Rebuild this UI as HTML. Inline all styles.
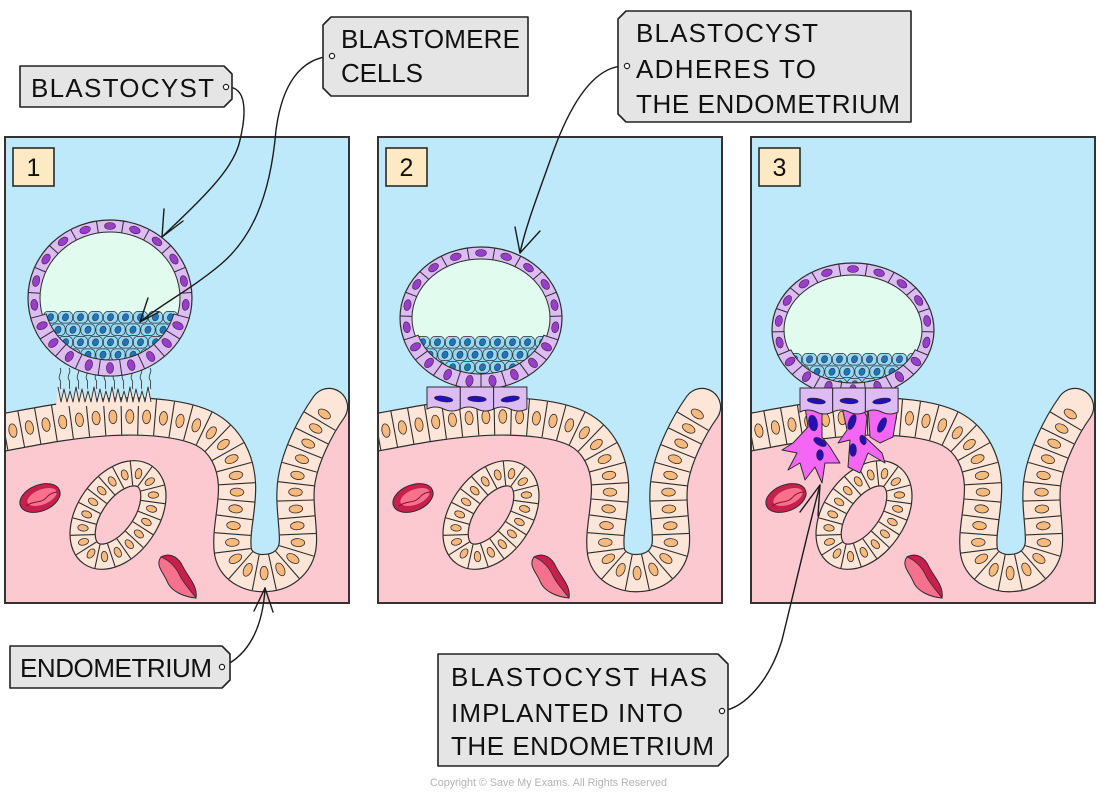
<!DOCTYPE html>
<html><head><meta charset="utf-8">
<style>
html,body{margin:0;padding:0;background:#fff;}
svg{display:block;}
text{font-family:"Liberation Sans",sans-serif;}
</style></head><body>
<svg id="s" xmlns="http://www.w3.org/2000/svg" width="1100" height="793" viewBox="0 0 1100 793">
<defs id="defs">
<clipPath id="pc"><rect x="5" y="137" width="344" height="466"/></clipPath>
</defs>
<rect x="0" y="0" width="1100" height="793" fill="#ffffff"/>
<g id="g1" clip-path="url(#pc)"></g>
<g transform="translate(373,0)"><g id="g2" clip-path="url(#pc)"></g></g>
<g transform="translate(746,0)"><g id="g3" clip-path="url(#pc)"></g></g>

<!-- panel borders -->
<rect x="5" y="137" width="344" height="466" fill="none" stroke="#333" stroke-width="2"/>
<rect x="378" y="137" width="344" height="466" fill="none" stroke="#333" stroke-width="2"/>
<rect x="751" y="137" width="344" height="466" fill="none" stroke="#333" stroke-width="2"/>

<!-- number boxes -->
<rect x="13" y="148" width="41" height="38" fill="#fde9c4" stroke="#2a2a2a" stroke-width="1.6"/>
<text x="33.5" y="176" font-size="25" text-anchor="middle" fill="#111">1</text>
<rect x="386" y="148" width="41" height="38" fill="#fde9c4" stroke="#2a2a2a" stroke-width="1.6"/>
<text x="406.5" y="176" font-size="25" text-anchor="middle" fill="#111">2</text>
<rect x="759" y="148" width="41" height="38" fill="#fde9c4" stroke="#2a2a2a" stroke-width="1.6"/>
<text x="779.5" y="176" font-size="25" text-anchor="middle" fill="#111">3</text>

<!-- connectors -->
<g fill="none" stroke="#1a1a1a" stroke-width="1.4" stroke-linecap="round">
<path d="M226,87 C248,86 246,115 240,140 C234,170 200,200 162,237"/>
<path d="M162,237 L164,209 M162,237 L183,221"/>
<path d="M332,56 C300,58 282,85 276,130 C270,200 250,240 220,265 C190,290 160,305 140,322"/>
<path d="M140,322 L148,298 M140,322 L159,312"/>
<path d="M627,66 C592,64 568,110 552,155 C538,195 526,225 520,253"/>
<path d="M520,253 L515,227 M520,253 L540,231"/>
<path d="M222,667 C250,655 263,625 265,588"/>
<path d="M265,588 L254,611 M265,588 L273,612"/>
<path d="M722,711 C745,708 770,680 782,640 C792,600 808,530 820,485"/>
<path d="M820,485 L800,512 M820,485 L818,516"/>
</g>

<!-- label boxes -->
<g fill="#e5e5e5" stroke="#222" stroke-width="1.6" stroke-linejoin="round">
<path d="M20,66 H224 L232,74 V99 L224,107 H20 Z"/>
<path d="M331,17 H528 V96 H331 L323,88 V25 Z"/>
<path d="M626,11 H911 V122 H626 L618,114 V19 Z"/>
<path d="M10,646 H222 L230,654 V680 L222,688 H10 Z"/>
<path d="M438,654 H718 L728,664 V756 L718,766 H438 Z"/>
</g>
<g fill="#fff" stroke="#222" stroke-width="1.2">
<circle cx="226" cy="87" r="2.6"/>
<circle cx="332" cy="56" r="2.6"/>
<circle cx="627" cy="66" r="2.6"/>
<circle cx="222" cy="667" r="2.6"/>
<circle cx="722" cy="711" r="2.6"/>
</g>
<g fill="#111" font-size="26">
<text x="31" y="97" textLength="183" lengthAdjust="spacing">BLASTOCYST</text>
<text x="341" y="48" textLength="179" lengthAdjust="spacing">BLASTOMERE</text>
<text x="341" y="82" textLength="82" lengthAdjust="spacing">CELLS</text>
<text x="636" y="42" textLength="182" lengthAdjust="spacing">BLASTOCYST</text>
<text x="636" y="78" textLength="180" lengthAdjust="spacing">ADHERES TO</text>
<text x="636" y="113" textLength="264" lengthAdjust="spacing">THE ENDOMETRIUM</text>
<text x="20" y="677" textLength="192" lengthAdjust="spacing">ENDOMETRIUM</text>
<text x="451" y="686" textLength="256" lengthAdjust="spacing">BLASTOCYST HAS</text>
<text x="451" y="722" textLength="232" lengthAdjust="spacing">IMPLANTED INTO</text>
<text x="451" y="755" textLength="263" lengthAdjust="spacing">THE ENDOMETRIUM</text>
</g>
<text x="430" y="786" font-size="11" fill="#b3b3b3" textLength="237" lengthAdjust="spacingAndGlyphs">Copyright © Save My Exams. All Rights Reserved</text>
</svg>
<script>
(function(){
const NS="http://www.w3.org/2000/svg";
const DK="#2d2d2d", PEACH="#fde6d8", PNUC="#f8b97c", TROPH="#dcbcf3", PNUC2="#9a3ccc",
      BLUE="#97d9f4", BNUC="#1f74bb", MINT="#e1fbee", NAVY="#2410b0", MAG="#f466f4",
      SKY="#bde9fa", PINK="#fdc9d1";
const svg=document.getElementById('s'), defs=document.getElementById('defs');
function E(t,a,p){const e=document.createElementNS(NS,t);for(const k in a)e.setAttribute(k,a[k]);(p||svg).appendChild(e);return e;}
const meas=E('g',{fill:'none',stroke:'none'},defs);

function band(g,d,half,step,nrx,nry,closed){
  E('path',{d:d,fill:'none',stroke:DK,'stroke-width':2*half+2.4,'stroke-linejoin':'round','stroke-linecap':'round'},g);
  E('path',{d:d,fill:'none',stroke:PEACH,'stroke-width':2*half,'stroke-linejoin':'round','stroke-linecap':'round'},g);
  const p=E('path',{d:d},meas);
  const L=p.getTotalLength(); const n=Math.max(1,Math.round(L/step)); const st=L/n;
  const at=function(s){s=Math.max(0,Math.min(L,s));const a=p.getPointAtLength(Math.max(0,s-0.6)),b=p.getPointAtLength(Math.min(L,s+0.6)),c=p.getPointAtLength(s);let tx=b.x-a.x,ty=b.y-a.y;const m=Math.hypot(tx,ty)||1;return {x:c.x,y:c.y,tx:tx/m,ty:ty/m};};
  let dv='';
  for(let i=(closed?0:1);i<n;i++){
    const q=at(i*st); const nx=-q.ty, ny=q.tx;
    dv+='M'+(q.x-nx*half).toFixed(1)+','+(q.y-ny*half).toFixed(1)+'L'+(q.x+nx*half).toFixed(1)+','+(q.y+ny*half).toFixed(1);
  }
  E('path',{d:dv,stroke:DK,'stroke-width':1.1,fill:'none'},g);
  for(let i=0;i<n;i++){
    const q=at((i+0.5)*st);
    const ang=Math.atan2(q.ty,q.tx)*180/Math.PI;
    E('ellipse',{cx:0,cy:0,rx:nrx,ry:nry,fill:PNUC,stroke:DK,'stroke-width':0.8,transform:'translate('+q.x.toFixed(1)+','+q.y.toFixed(1)+') rotate('+ang.toFixed(1)+')'},g);
  }
}

function blasto(g,id,cx,cy,rx,ry,icmTop,bth,t1,t2,nb,nt){
  const rt=12;
  E('ellipse',{cx:cx,cy:cy,rx:rx,ry:ry,fill:TROPH,stroke:DK,'stroke-width':1.2},g);
  const irx=rx-rt, iry=ry-rt;
  E('ellipse',{cx:cx,cy:cy,rx:irx,ry:iry,fill:MINT,stroke:DK,'stroke-width':1},g);
  const cp=E('clipPath',{id:id},defs);
  E('ellipse',{cx:cx,cy:cy,rx:irx,ry:iry},cp);
  const ig=E('g',{'clip-path':'url(#'+id+')'},g);
  E('rect',{x:cx-rx,y:icmTop+6,width:2*rx,height:2*ry,fill:BLUE},ig);
  const cw=15,ch=12.5; let r=0;
  for(let y=icmTop;y<cy+ry;y+=ch,r++){
    const off=(r%2)?cw/2:0;
    for(let x=cx-rx-off;x<cx+rx;x+=cw){
      E('rect',{x:x+0.4,y:y+0.4,width:cw-0.8,height:ch-0.8,rx:4.5,fill:BLUE,stroke:DK,'stroke-width':0.7},ig);
      const ncx=x+cw/2, ncy=y+ch/2;
      E('ellipse',{cx:ncx,cy:ncy,rx:3,ry:3.7,fill:BNUC,stroke:DK,'stroke-width':0.5,transform:'rotate(25 '+ncx+' '+ncy+')'},ig);
    }
  }
  const P=function(a,ex,ey){return [(cx+ex*Math.cos(a*Math.PI/180)).toFixed(2),(cy+ey*Math.sin(a*Math.PI/180)).toFixed(2)];};
  const tang=function(a){const ar=a*Math.PI/180;return Math.atan2(ry*Math.cos(ar),-rx*Math.sin(ar))*180/Math.PI;};
  let dv='';
  const span=(t1+360)-t2;
  for(let k=1;k<nt;k++){const a=t2+k*span/nt;const o=P(a,rx,ry),i=P(a,irx,iry);dv+='M'+o+'L'+i;}
  E('path',{d:dv,stroke:DK,'stroke-width':1,fill:'none'},g);
  for(let k=0;k<nt;k++){
    const a=t2+(k+0.5)*span/nt; const m=P(a,rx-rt/2,ry-rt/2);
    E('ellipse',{cx:0,cy:0,rx:5.5,ry:3.5,fill:PNUC2,stroke:DK,'stroke-width':0.6,transform:'translate('+m+') rotate('+tang(a)+')'},g);
  }
  const o1=P(t1,rx,ry),o2=P(t2,rx,ry),i1=P(t1,rx-bth,ry-bth),i2=P(t2,rx-bth,ry-bth);
  E('path',{d:'M'+o1+'A'+rx+','+ry+' 0 0 1 '+o2+'L'+i2+'A'+(rx-bth)+','+(ry-bth)+' 0 0 0 '+i1+'Z',fill:TROPH,stroke:DK,'stroke-width':1},g);
  dv='';
  for(let k=1;k<nb;k++){const a=t1+k*(t2-t1)/nb;const o=P(a,rx,ry),i=P(a,rx-bth,ry-bth);dv+='M'+o+'L'+i;}
  E('path',{d:dv,stroke:DK,'stroke-width':1,fill:'none'},g);
  for(let k=0;k<nb;k++){
    const a=t1+(k+0.5)*(t2-t1)/nb; const m=P(a,rx-bth/2,ry-bth/2);
    E('ellipse',{cx:0,cy:0,rx:3.6,ry:5.5,fill:PNUC2,stroke:DK,'stroke-width':0.6,transform:'translate('+m+') rotate('+tang(a)+')'},g);
  }
}

function syn(g,x0,y0,w,h,n){
  for(let i=0;i<n;i++){
    const x=x0+i*w;
    E('path',{d:'M'+x+','+y0+'h'+w+'v'+(h-4)+'q'+(-w/4)+',4 '+(-w/2)+',0 q'+(-w/4)+',-4 '+(-w/2)+',0z',fill:TROPH,stroke:DK,'stroke-width':1},g);
    const cxn=x+w/2, cyn=y0+h/2-1;
    E('ellipse',{cx:cxn,cy:cyn,rx:w*0.28,ry:2.8,fill:NAVY,stroke:DK,'stroke-width':0.5,transform:'rotate('+(i==0?8:(i==2?-8:3))+' '+cxn+' '+cyn+')'},g);
  }
}

const CL="M-12,435 C20,430 60,420 110,417 C150,415 185,419 205,429 C226,440 236,462 237,485 C238,508 230,532 233,552 C236,568 253,574 266,573 C284,572 298,560 298,540 C298,520 293,500 297,478 C301,456 314,428 329,407";

function base(g){
  E('rect',{x:0,y:130,width:360,height:480,fill:SKY},g);
  E('path',{d:CL+" L349,414 L360,414 L360,610 L-12,610 Z",fill:PINK},g);
  band(g,CL,18,17,4,6.8,false);
  const gd="M144.96,476.5 A47,28 -55 1 1 91.04,553.5 A47,28 -55 1 1 144.96,476.5 Z";
  band(g,gd,12,14,3.2,5.2,true);
  E('ellipse',{cx:40,cy:498,rx:21,ry:13,fill:"#c8204c",stroke:DK,'stroke-width':1,transform:'rotate(-22 40 498)'},g);
  E('ellipse',{cx:42,cy:497,rx:15.5,ry:7.5,fill:"#f7708e",transform:'rotate(-22 42 497)'},g);
  E('path',{d:"M26,506 C34,500 40,504 46,498 C50,493 55,492 58,492",fill:'none',stroke:"#8a1030",'stroke-width':1},g);
  E('path',{d:"M161,557 C171,552 179,558 183,567 C188,577 198,586 196,598 C185,597 171,592 167,581 C163,572 155,565 161,557 Z",fill:"#f7708e",stroke:DK,'stroke-width':1},g);
  E('path',{d:"M161,557 C171,552 179,558 183,567 C188,577 198,586 196,598 C191,591 184,584 180,576 C176,567 169,560 161,557 Z",fill:"#c8204c",stroke:DK,'stroke-width':0.8},g);
}

// panel 1
const g1=document.getElementById('g1');
base(g1);
(function(){
  let pts='56,406 ', line='';
  let k=0;
  for(let x=58;x<150;x+=6,k++){
    const py=387+(k%3)*2;
    pts+=x+','+py+' '+(x+3)+',402 ';
    line+=(line?'L':'M')+x+','+py+'L'+(x+3)+',402';
  }
  pts+='152,406';
  E('polygon',{points:pts,fill:PEACH},g1);
  E('path',{d:line,fill:'none',stroke:DK,'stroke-width':0.9,'stroke-linejoin':'round'},g1);
  let sq='';
  for(let x=60;x<=150;x+=9){sq+='M'+x+',368 c3,4 -3,8 0,12 c2,3 -1,6 1,9 ';}
  E('path',{d:sq,fill:'none',stroke:DK,'stroke-width':0.8},g1);
})();
blasto(g1,'c1',110,298,82,78,311,16,15,165,9,11);

// panel 2
const g2=document.getElementById('g2');
base(g2);
blasto(g2,'c2',108,318,81,71,336,15,18,162,8,11);
syn(g2,54,387,33.3,26,3);

// panel 3
const g3=document.getElementById('g3');
base(g3);
const mags=[
 "59,407 62,427 47,443 36,450 51,453 42,470 54,463 59,480 69,467 76,483 79,463 94,463 84,447 76,437 76,413",
 "96,407 101,430 92,443 104,440 102,467 114,473 122,453 139,463 136,453 119,437 121,417 116,407",
 "122,407 124,437 134,443 147,437 151,413 149,407"];
mags.forEach(function(p){E('polygon',{points:p,fill:MAG,stroke:DK,'stroke-width':1,'stroke-linejoin':'round'},g3);});
[[67,423,4.5,8,-10],[74,442,7,3.5,30],[74,455,3.5,5.5,0],[106,422,3.5,8,20],[107,450,3.5,6.5,0],[117,440,3,5,-20],[136,425,3.5,8,25]].forEach(function(n){
  E('ellipse',{cx:n[0],cy:n[1],rx:n[2],ry:n[3],fill:NAVY,stroke:DK,'stroke-width':0.5,transform:'rotate('+n[4]+' '+n[0]+' '+n[1]+')'},g3);
});
blasto(g3,'c3',107,330,81,67,353,14,22,158,7,11);
syn(g3,54,388,32.7,28,3);
})();
</script>
</body></html>
